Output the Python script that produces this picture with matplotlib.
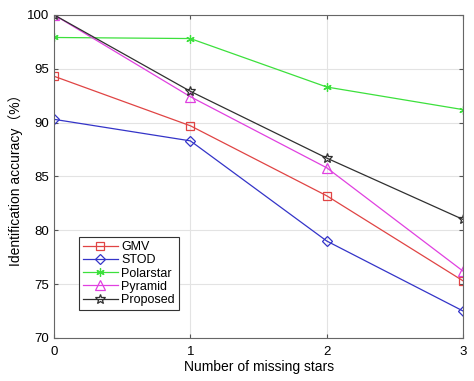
import matplotlib
matplotlib.use('Agg')
import matplotlib.pyplot as plt

plt.rcParams['font.family'] = ['Liberation Sans', 'Noto Sans CJK SC', 'DejaVu Sans']

# Data
missing = [0, 1, 2, 3]
gmv = [94.3, 89.7, 83.2, 75.3]
stod = [90.3, 88.3, 79.0, 72.5]
polarstar = [97.9, 97.8, 93.3, 91.2]
pyramid = [100.0, 92.4, 85.8, 76.2]
proposed = [100.0, 92.9, 86.7, 81.0]

series = [
    ('GMV', gmv, '#e04444', 's', 5.5),
    ('STOD', stod, '#3434c8', 'D', 5),
    ('Polarstar', polarstar, '#3ce03c', (6, 2, 0), 6),
    ('Pyramid', pyramid, '#e040e0', '^', 6.5),
    ('Proposed', proposed, '#303030', '*', 7),
]

fig = plt.figure(figsize=(4.74, 3.81), dpi=100)
ax = fig.add_axes([0.114, 0.113, 0.863, 0.848])

for name, vals, color, marker, size in series:
    ax.plot(missing, vals, color=color, lw=0.9, marker=marker, ms=size,
            mec=color, mfc='none', mew=0.9, label=name)

ax.set_xlim(0, 3)
ax.set_ylim(70, 100)
ax.set_xticks([0, 1, 2, 3])
ax.set_yticks([70, 75, 80, 85, 90, 95, 100])
ax.grid(True, color='#e3e3e3', lw=0.8)
ax.set_axisbelow(True)
ax.tick_params(direction='in', length=3, labelsize=9.5, color='#555555',
               top=True, right=True)
ax.tick_params(axis='x', pad=6)
for s in ax.spines.values():
    s.set_color('#666666')
    s.set_linewidth(0.8)

ax.set_xlabel('Number of missing stars', fontsize=10, labelpad=1)
ax.set_ylabel('Identification accuracy（%）', fontsize=10, labelpad=3)

leg = ax.legend(loc='lower left', bbox_to_anchor=(0.061, 0.087), fontsize=9,
                fancybox=False, framealpha=1, edgecolor='#333333',
                handlelength=2.8, handletextpad=0.3, borderpad=0.3,
                labelspacing=0.1, borderaxespad=0)
leg.get_frame().set_linewidth(0.8)

fig.savefig('out.png', dpi=100)
